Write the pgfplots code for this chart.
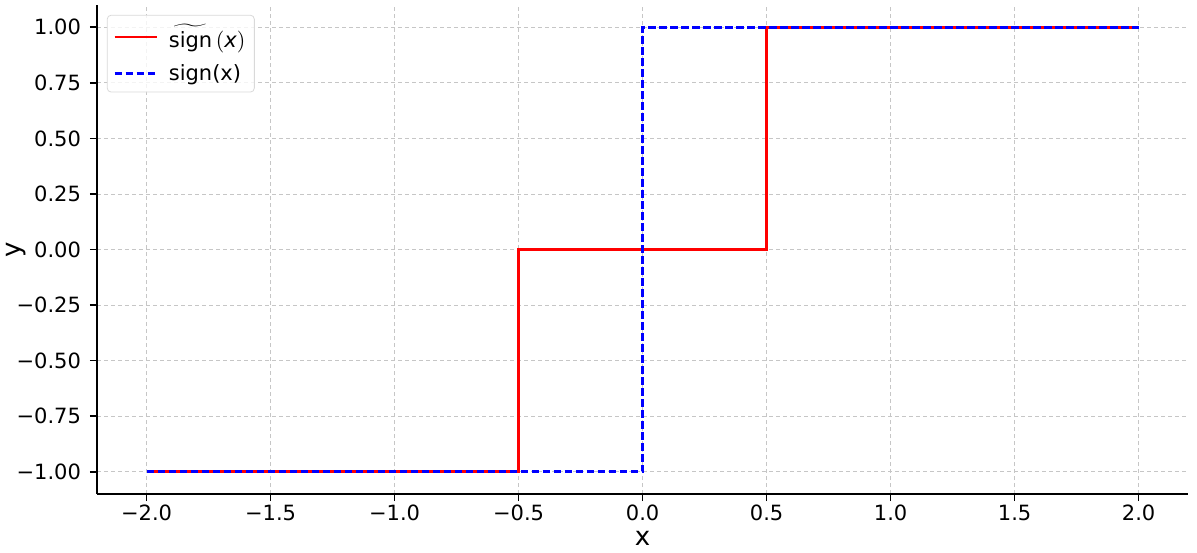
\documentclass[border=0pt]{standalone}
\usepackage{amsmath}
\usepackage{fontspec}
\setmainfont{DejaVu Sans}
\usepackage{pgfplots}
\pgfplotsset{compat=1.18}
\begin{document}
\begin{tikzpicture}[x=0.5pt,y=0.5pt]
\path[use as bounding box] (-97,-58) rectangle (1100,494);
\begin{axis}[
  at={(0pt,0pt)}, anchor=south west,
  scale only axis, width=545.6pt, height=244.5pt,
  xmin=-2.2, xmax=2.2, ymin=-1.1, ymax=1.1,
  axis x line*=bottom, axis y line*=left,
  axis line style={black, line width=0.8pt, -},
  xtick={-2,-1.5,-1,-0.5,0,0.5,1,1.5,2},
  xticklabels={−2.0,−1.5,−1.0,−0.5,0.0,0.5,1.0,1.5,2.0},
  ytick={-1,-0.75,-0.5,-0.25,0,0.25,0.5,0.75,1},
  yticklabels={−1.00,−0.75,−0.50,−0.25,0.00,0.25,0.50,0.75,1.00},
  tick align=outside, major tick length=3.5pt,
  tick style={black, line width=0.8pt},
  ticklabel style={font=\fontsize{10.5}{12}\selectfont, text=black},
  xticklabel style={yshift=-1pt, inner ysep=1pt},
  yticklabel style={xshift=-1pt},
  grid=major,
  major grid style={gray!45, line width=0.4pt, dash pattern=on 2pt off 1.5pt},
  xlabel={x}, ylabel={y},
  every axis x label/.style={at={(axis description cs:0.5,-0.09)}, anchor=center, inner sep=0pt, font=\fontsize{13}{15}\selectfont},
  every axis y label/.style={at={(axis description cs:-0.074,0.5)}, anchor=center, inner sep=0pt, rotate=90, font=\fontsize{13}{15}\selectfont},
  legend style={at={(0.009,0.98)}, anchor=north west, draw=gray!30, rounded corners=2pt,
    fill=white, fill opacity=0.8, text opacity=1, font=\fontsize{10.5}{12}\selectfont,
    inner xsep=3pt, inner ysep=3pt, row sep=4pt,
    nodes={inner sep=1.5pt},
    /tikz/every even column/.append style={column sep=0pt},
    /tikz/every odd column/.append style={column sep=4pt}},
  legend cell align=left,
  legend image code/.code={\draw[#1] (0pt,0pt) -- (21pt,0pt);},
]
\addplot[red, line width=1.3pt, const plot] coordinates {
  (-2,-1) (-0.5,0) (0.5,1) (2,1)
};
\addlegendentry{$\widetilde{\text{sign}}\,(\textit{x})$}
\addplot[blue, line width=1.3pt, dash pattern=on 3.8pt off 1.7pt, const plot] coordinates {
  (-2,-1) (0,1) (2,1)
};
\addlegendentry{sign(x)}
\end{axis}
\end{tikzpicture}
\end{document}
